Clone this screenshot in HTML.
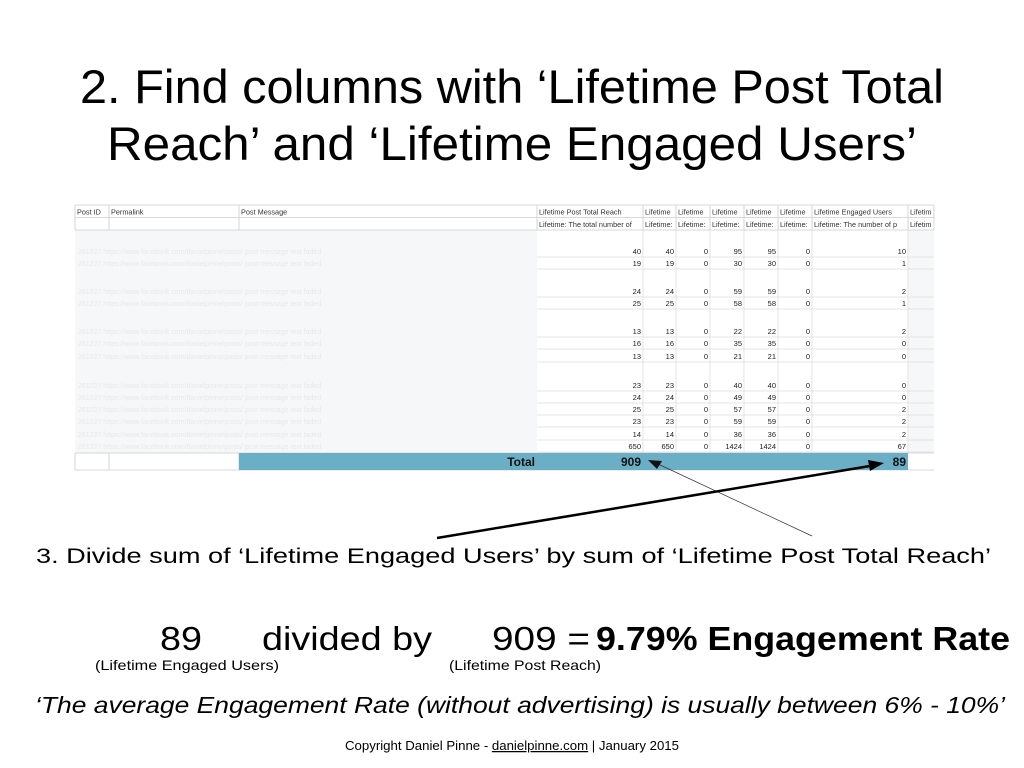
<!DOCTYPE html>
<html><head><meta charset="utf-8"><style>
html,body{margin:0;padding:0;background:#fff;width:1024px;height:768px;overflow:hidden}
svg{display:block}
</style></head><body>
<svg id="s" width="1024" height="768" viewBox="0 0 1024 768" font-family="'Liberation Sans', sans-serif">
<text x="512" y="103" font-size="47" text-anchor="middle" textLength="864" lengthAdjust="spacingAndGlyphs">2. Find columns with ‘Lifetime Post Total</text>
<text x="512" y="160" font-size="47" text-anchor="middle" textLength="810" lengthAdjust="spacingAndGlyphs">Reach’ and ‘Lifetime Engaged Users’</text>
<g id="tbl"></g>
<g>
<line x1="812" y1="536" x2="658" y2="464" stroke="#333" stroke-width="0.7"/>
<polygon points="648,460 662,461 657,469" fill="#111"/>
<line x1="437" y1="538" x2="870" y2="466" stroke="#000" stroke-width="2.5"/>
<polygon points="884,463 868,460 870,471" fill="#000"/>
</g>
<text x="36" y="563" font-size="21" textLength="955" lengthAdjust="spacingAndGlyphs">3. Divide sum of ‘Lifetime Engaged Users’ by sum of ‘Lifetime Post Total Reach’</text>
<text x="160" y="650" font-size="33" textLength="42" lengthAdjust="spacingAndGlyphs">89</text>
<text x="262" y="650" font-size="33" textLength="170" lengthAdjust="spacingAndGlyphs">divided by</text>
<text x="492" y="650" font-size="33" textLength="98" lengthAdjust="spacingAndGlyphs">909 =</text>
<text x="596" y="650" font-size="33" font-weight="bold" textLength="414" lengthAdjust="spacingAndGlyphs">9.79% Engagement Rate</text>
<text x="95" y="670" font-size="14" textLength="184" lengthAdjust="spacingAndGlyphs">(Lifetime Engaged Users)</text>
<text x="449" y="670" font-size="14" textLength="152" lengthAdjust="spacingAndGlyphs">(Lifetime Post Reach)</text>
<text x="35" y="713" font-size="23" font-style="italic" textLength="970" lengthAdjust="spacingAndGlyphs">‘The average Engagement Rate (without advertising) is usually between 6% - 10%’</text>
<text x="345" y="750" font-size="12.5" textLength="334" lengthAdjust="spacingAndGlyphs">Copyright Daniel Pinne - <tspan text-decoration="underline">danielpinne.com</tspan> | January 2015</text>
</svg>
<script>
const reach=[40,19,24,25,13,16,13,23,24,25,23,14,650];
const col2=[40,19,24,25,13,16,13,23,24,25,23,14,650];
const col3=[0,0,0,0,0,0,0,0,0,0,0,0,0];
const col4=[95,30,59,58,22,35,21,40,49,57,59,36,1424];
const col5=[95,30,59,58,22,35,21,40,49,57,59,36,1424];
const col6=[0,0,0,0,0,0,0,0,0,0,0,0,0];
const engaged=[10,1,2,1,2,0,0,0,0,2,2,2,67];
const headers=["Post ID","Permalink","Post Message","Lifetime Post Total Reach","Lifetime","Lifetime","Lifetime","Lifetime","Lifetime","Lifetime Engaged Users","Lifetim"];
const subheaders=["","","","Lifetime: The total number of","Lifetime:","Lifetime:","Lifetime:","Lifetime:","Lifetime:","Lifetime: The number of p","Lifetim"];
const rowCenters=[251,263,291,303,331,343,356,385,397,409,421,434,446];
const colX=[75,109,239,537,643,676,710,744,778,812,908,934];
const NS="http://www.w3.org/2000/svg";
const g=document.getElementById('tbl');
function mk(t,a){const e=document.createElementNS(NS,t);for(const k in a)e.setAttribute(k,a[k]);g.appendChild(e);return e;}
let bg=mk('rect',{x:75,y:230,width:859,height:223,fill:'#f6f7f8'});


let bw=mk('rect',{x:537,y:230,width:371,height:223,fill:'#fff'});


// header rows
for(let r=0;r<2;r++){
  const y=205+r*12.5;
  mk('line',{x1:75,y1:y,x2:934,y2:y,stroke:'#ccc','stroke-width':0.8});
  const arr=r?subheaders:headers;
  for(let c=0;c<arr.length;c++){
    const t=mk('text',{x:colX[c]+2,y:y+9.5,'font-size':7.3,fill:'#333'});
    t.textContent=arr[c];
    
    
  }
}
mk('line',{x1:75,y1:230,x2:934,y2:230,stroke:'#ccc','stroke-width':0.8});
colX.forEach(x=>mk('line',{x1:x,y1:205,x2:x,y2:230,stroke:'#ccc','stroke-width':0.8}));
[643,676,710,744,778,812,908].forEach(x=>mk('line',{x1:x,y1:230,x2:x,y2:453,stroke:'#ddd','stroke-width':0.8}));
// data
const series=[reach,col2,col3,col4,col5,col6,engaged];
const right=[641,674,708,742,776,810,906];
rowCenters.forEach((cy,i)=>{
  mk('line',{x1:537,y1:cy+6,x2:934,y2:cy+6,stroke:'#ddd','stroke-width':0.8});
  const ft=mk('text',{x:78,y:cy+3,'font-size':7,fill:'#e6e8ea'});
  ft.textContent='261227 https://www.facebook.com/danielpinne/posts/ post message text faded';
  
  
  series.forEach((s,c)=>{
    const t=mk('text',{x:right[c],y:cy+3,'font-size':7.5,'text-anchor':'end',fill:'#222'});
    t.textContent=s[i];
    
    
  });
});
// total row
mk('line',{x1:75,y1:453,x2:934,y2:453,stroke:'#ccc','stroke-width':0.8});
mk('line',{x1:75,y1:470,x2:934,y2:470,stroke:'#ccc','stroke-width':0.8});
[75,109,239].forEach(x=>mk('line',{x1:x,y1:453,x2:x,y2:470,stroke:'#ccc','stroke-width':0.8}));
let tb=mk('rect',{x:239,y:453,width:669,height:17,fill:'#6aafc6'});


const sum=a=>a.reduce((p,v)=>p+v,0);
const tl=mk('text',{x:535,y:466,'font-size':12,'font-weight':'bold','text-anchor':'end',fill:'#111'});
tl.textContent='Total';


const t1=mk('text',{x:641,y:466,'font-size':12,'font-weight':'bold','text-anchor':'end',fill:'#111'});
t1.textContent=sum(reach);


const t2=mk('text',{x:906,y:466,'font-size':12,'font-weight':'bold','text-anchor':'end',fill:'#111'});
t2.textContent=sum(engaged);


</script>
</body></html>
